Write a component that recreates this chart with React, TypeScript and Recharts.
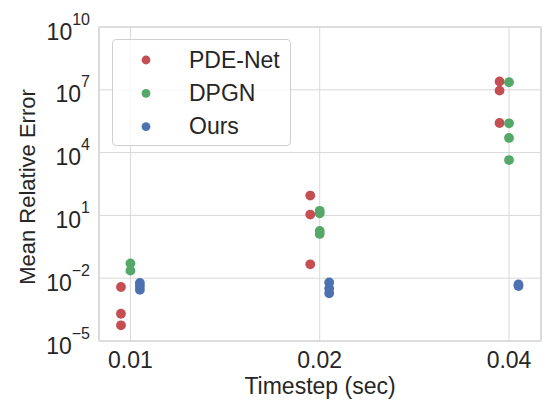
import { ScatterChart, Scatter, XAxis, YAxis, CartesianGrid, ReferenceArea, Legend } from 'recharts'

const categories = ['0.01', '0.02', '0.04']
// errors per timestep, one inner list per category
const pdeNet = [
  [3.8e-3, 2.0e-4, 5.6e-5],
  [89, 11, 0.046],
  [2.5e7, 9.1e6, 2.6e5],
]
const dpgn = [
  [0.051, 0.023],
  [16.6, 12.6, 1.8, 1.3],
  [2.3e7, 2.5e5, 5.0e4, 4.4e3],
]
const ours = [
  [6.0e-3, 4.2e-3, 2.8e-3],
  [6.3e-3, 3.2e-3, 1.9e-3],
  [5.0e-3, 4.2e-3],
]
const yTicks = [1e-5, 1e-2, 1e1, 1e4, 1e7, 1e10]

const FONT = '"Liberation Sans", Arial, sans-serif'
const INK = '#262626'
const X_DOMAIN: [number, number] = [-0.166, 2.169]
const Y_DOMAIN: [number, number] = [1e-5, 1e10]

function toPoints(values: number[][], shift: number) {
  return values.flatMap((group, i) => group.map((v) => ({ x: i + shift, y: v })))
}

const series = [
  { name: 'PDE-Net', color: '#C44E52', data: toPoints(pdeNet, -0.05) },
  { name: 'DPGN', color: '#55A868', data: toPoints(dpgn, 0) },
  { name: 'Ours', color: '#4C72B0', data: toPoints(ours, 0.05) },
]

function Dot(props: any) {
  const { cx, cy, fill } = props
  if (cx == null || cy == null) return null
  return <circle cx={cx} cy={cy} r={4.9} fill={fill} />
}

function XTick({ x, y, payload }: any) {
  return (
    <text x={x} y={y + 27} textAnchor="middle" fontSize={23} fill={INK} fontFamily={FONT}>
      {categories[payload.value]}
    </text>
  )
}

function YTick({ x, y, payload }: any) {
  const exp = Math.round(Math.log10(payload.value))
  const sup = exp < 0 ? '\u2212' + Math.abs(exp) : String(exp)
  return (
    <text x={x - 9} y={y + 12.5} textAnchor="end" fontSize={23} fill={INK} fontFamily={FONT}>
      10
      <tspan dy={-15} fontSize={16}>
        {sup}
      </tspan>
    </text>
  )
}

function XLabel() {
  return (
    <text x={320} y={394} textAnchor="middle" fontSize={23} fill={INK} fontFamily={FONT}>
      Timestep (sec)
    </text>
  )
}

function YLabel() {
  return (
    <text
      x={27}
      y={187}
      transform="rotate(-90, 27, 187)"
      textAnchor="middle"
      dominantBaseline="central"
      fontSize={22}
      fill={INK}
      fontFamily={FONT}
    >
      Mean Relative Error
    </text>
  )
}

function LegendBox() {
  return (
    <div
      style={{
        width: 179,
        height: 107,
        boxSizing: 'border-box',
        border: '1px solid #d0d0d0',
        borderRadius: 4,
        background: 'rgba(255,255,255,0.8)',
      }}
    >
      <svg width={177} height={105} style={{ display: 'block' }}>
        {series.map((s, i) => (
          <g key={s.name}>
            <circle cx={33} cy={20 + i * 33.3} r={4.4} fill={s.color} />
            <text x={76} y={27.5 + i * 33.3} fontSize={23} fill={INK} fontFamily={FONT}>
              {s.name}
            </text>
          </g>
        ))}
      </svg>
    </div>
  )
}

export default function App() {
  return (
    <div style={{ position: 'absolute', left: 0, top: 0, background: '#fff' }}>
      <ScatterChart width={554} height={418} margin={{ top: 27, right: 13, left: 0, bottom: 0 }}>
        <CartesianGrid stroke="#d8d8d8" strokeWidth={1} />
        <ReferenceArea
          x1={X_DOMAIN[0]}
          x2={X_DOMAIN[1]}
          y1={Y_DOMAIN[0]}
          y2={Y_DOMAIN[1]}
          fill="none"
          stroke="#d0d0d0"
          strokeWidth={1.2}
          ifOverflow="visible"
        />
        <XAxis
          type="number"
          dataKey="x"
          domain={X_DOMAIN}
          ticks={[0, 1, 2]}
          allowDataOverflow
          axisLine={false}
          tickLine={false}
          tickSize={0}
          tickMargin={0}
          height={77}
          tick={<XTick />}
          label={<XLabel />}
        />
        <YAxis
          type="number"
          dataKey="y"
          scale="log"
          domain={Y_DOMAIN}
          ticks={yTicks}
          allowDataOverflow
          axisLine={false}
          tickLine={false}
          tickSize={0}
          tickMargin={0}
          width={99}
          tick={<YTick />}
          label={<YLabel />}
        />
        <Legend
          layout="horizontal"
          verticalAlign="middle"
          align="center"
          wrapperStyle={{ left: 112, top: 39, width: 179, height: 107 }}
          content={<LegendBox />}
        />
        {series.map((s) => (
          <Scatter
            key={s.name}
            name={s.name}
            data={s.data}
            fill={s.color}
            shape={<Dot />}
            isAnimationActive={false}
          />
        ))}
      </ScatterChart>
    </div>
  )
}
